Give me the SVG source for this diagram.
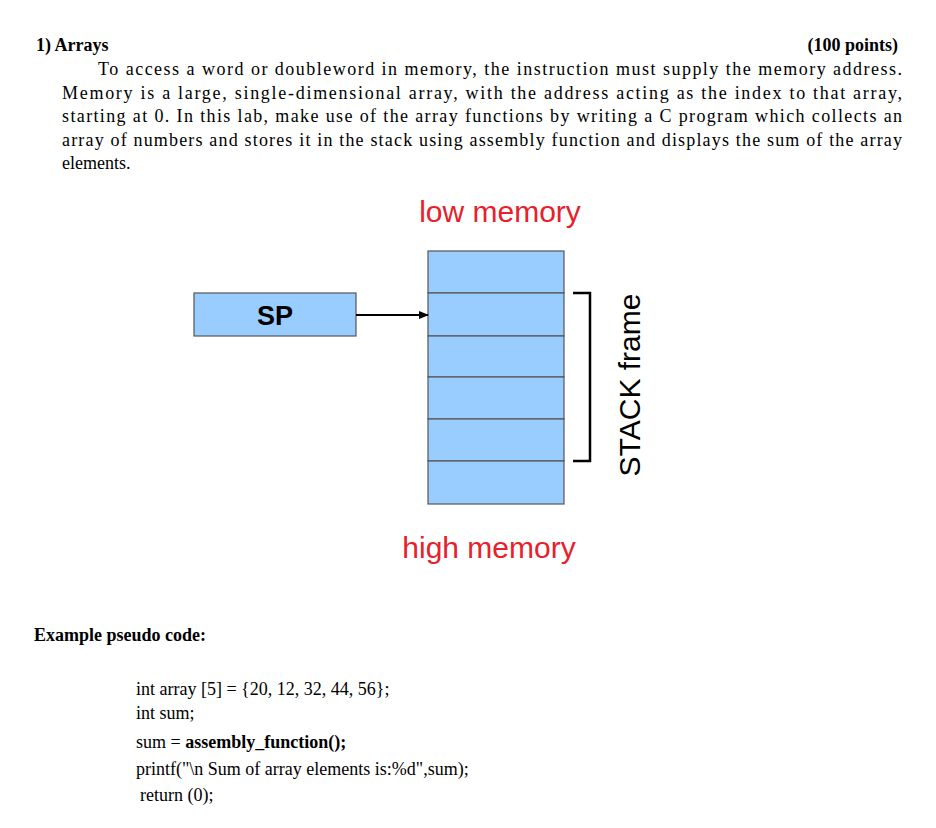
<svg xmlns="http://www.w3.org/2000/svg" width="936" height="828" viewBox="0 0 936 828">
<style>
.t{font-family:"Liberation Serif",serif;font-size:18px;fill:#000}
.b{font-weight:bold}
.s{font-family:"Liberation Sans",sans-serif}
.cell{fill:#99ccff;stroke:#555;stroke-width:1.2}
</style>
<defs><marker id="ah" markerWidth="10" markerHeight="8" refX="9" refY="4" orient="auto" markerUnits="userSpaceOnUse"><path d="M0,0 L10,4 L0,8 Z" fill="#000"/></marker></defs>
<rect width="936" height="828" fill="#fff"/>
<text class="t b" x="36" y="51">1)  Arrays</text>
<text class="t b" x="898" y="51" text-anchor="end">(100 points)</text>
<text class="t" x="98" y="75" textLength="804" lengthAdjust="spacing">To access a word or doubleword in memory, the instruction must supply the memory address.</text>
<text class="t" x="62" y="99" textLength="840" lengthAdjust="spacing">Memory is a large, single-dimensional array, with the address acting as the index to that array,</text>
<text class="t" x="62" y="122" textLength="840" lengthAdjust="spacing">starting at 0. In this lab, make use of the array functions by writing a C program which collects an</text>
<text class="t" x="62" y="146" textLength="840" lengthAdjust="spacing">array of numbers and stores it in the stack using assembly function and displays the sum of the array</text>
<text class="t" x="62" y="169">elements.</text>
<text class="s" x="500" y="222" font-size="30" fill="#e8202a" text-anchor="middle">low memory</text>
<text class="s" x="489" y="558" font-size="30" fill="#e8202a" text-anchor="middle">high memory</text>
<g id="stack">
<rect class="cell" x="428" y="251" width="136" height="42"/>
<rect class="cell" x="428" y="293" width="136" height="43"/>
<rect class="cell" x="428" y="336" width="136" height="41"/>
<rect class="cell" x="428" y="377" width="136" height="42"/>
<rect class="cell" x="428" y="419" width="136" height="42"/>
<rect class="cell" x="428" y="461" width="136" height="43"/>
</g>
<g id="sp">
<rect class="cell" x="194" y="293" width="162" height="43"/>
<text class="s b" x="275" y="325" font-size="27" text-anchor="middle">SP</text>
</g>
<g id="connectors">
<line x1="356" y1="315" x2="428" y2="315" stroke="#000" stroke-width="2" marker-end="url(#ah)"/>
<path d="M573,293 H590 V461 H573" fill="none" stroke="#000" stroke-width="2.5"/>
</g>
<text class="s" transform="translate(640,385) rotate(-90)" font-size="30" text-anchor="middle">STACK frame</text>
<text class="t b" x="34" y="641">Example pseudo code:</text>
<text class="t" x="136" y="695">int array [5] = {20, 12, 32, 44, 56};</text>
<text class="t" x="136" y="719">int sum;</text>
<text class="t" x="136" y="748">sum = <tspan class="b">assembly_function();</tspan></text>
<text class="t" x="136" y="775">printf("\n Sum of array elements is:%d",sum);</text>
<text class="t" x="140" y="801">return (0);</text>
</svg>
